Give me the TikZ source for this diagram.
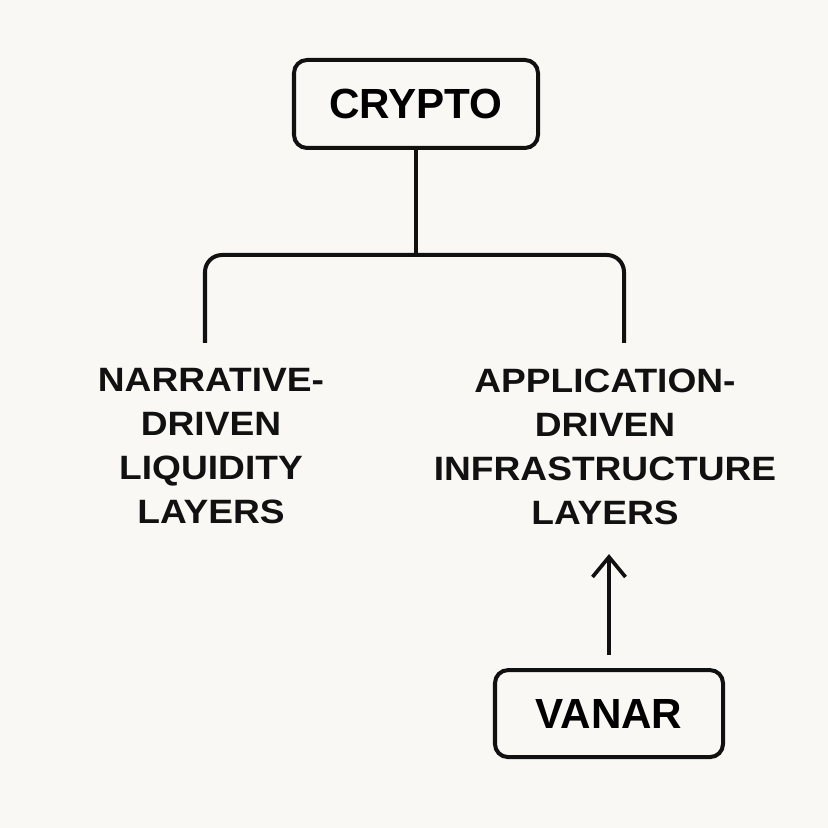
\documentclass[tikz,border=0pt]{standalone}
\usepackage{fontspec}
\setmainfont{Liberation Sans}
\newfontfamily\widesans[FakeStretch=1.1]{Liberation Sans}
\usepackage{tikz}
\usetikzlibrary{arrows.meta,positioning}
\definecolor{Paper}{HTML}{F9F8F4}
\definecolor{Ink}{HTML}{111111}

\begin{document}
\begin{tikzpicture}[
    chainbox/.style={
        rectangle,
        rounded corners=1.3mm,
        draw=Ink,
        line width=1.14pt,
        minimum width=2.44cm,
        minimum height=0.88cm,
        inner sep=0pt,
        align=center,
        font=\fontsize{12}{14}\selectfont\bfseries
    },
    layertext/.style={
        inner sep=0pt,
        align=center,
        text=Ink,
        font=\widesans\fontsize{9.6}{12.5}\selectfont\bfseries
    },
    wire/.style={draw=Ink, line width=1.14pt, rounded corners=1.7mm},
    pointer/.style={-{Straight Barb[length=2mm,width=3.3mm]}, draw=Ink, line width=1.05pt}
]
    \fill[Paper] (0,0) rectangle (8.28,8.28);
    \useasboundingbox (0,0) rectangle (8.28,8.28);

    \node[chainbox] (crypto) at (4.16,7.24) {CRYPTO};
    \node[layertext, below=2.18cm of crypto.south, xshift=-2.05cm] (narr)
        {NARRATIVE-\\DRIVEN\\LIQUIDITY\\LAYERS};
    \node[layertext, below=2.18cm of crypto.south, xshift=1.89cm] (infra)
        {APPLICATION-\\DRIVEN\\INFRASTRUCTURE\\LAYERS};
    \node[chainbox, minimum width=2.28cm, minimum height=0.87cm,
          below=1.43cm of infra.south, xshift=0.04cm] (vanar) {VANAR};

    % tree from the top box
    \coordinate (split) at (crypto.south |- 0,5.73);
    \draw[wire] (crypto.south) -- (split);
    \draw[wire] (split) -| ([xshift=-0.06cm, yshift=0.25cm]narr.north);
    \draw[wire] (split) -| ([xshift=0.19cm, yshift=0.25cm]infra.north);

    \draw[pointer, shorten <=0.13cm, shorten >=0.29cm] (vanar.north) -- (vanar.north |- infra.south);
\end{tikzpicture}
\end{document}
